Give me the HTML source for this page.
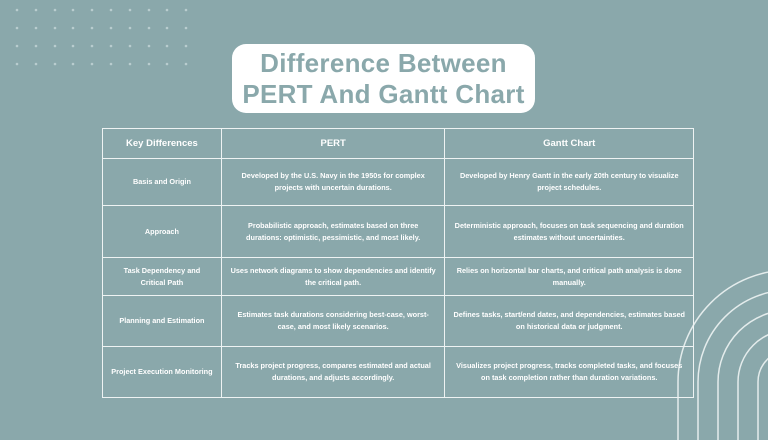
<!DOCTYPE html>
<html><head><style>
body{margin:0;width:768px;height:440px;background:#8aa8ab;position:relative;overflow:hidden;font-family:"Liberation Sans",sans-serif;}
.title{position:absolute;left:232px;top:44px;width:303px;height:69px;background:#fff;border-radius:14px;color:#8aa8ab;font-weight:bold;font-size:26px;line-height:31px;text-align:center;padding-top:4px;box-sizing:border-box;letter-spacing:0.3px}
table{position:absolute;left:102px;top:128px;width:592px;border-collapse:collapse;color:#fff;font-size:7.3px;font-weight:bold;}
td{border:1.2px solid #eef3f3;text-align:center;vertical-align:middle;padding:0 8px;line-height:12px}
tr.h td{font-size:9.5px;height:29px}
</style></head><body>
<svg width="768" height="440" style="position:absolute;left:0;top:0">
<g fill="none" stroke="#e4ecec" stroke-width="1.5">
<path d="M678 440 V382 A112 112 0 0 1 902 382"/>
<path d="M698 440 V382 A92 92 0 0 1 882 382"/>
<path d="M718 440 V382 A72 72 0 0 1 862 382"/>
<path d="M738 440 V382 A52 52 0 0 1 842 382"/>
<path d="M758 440 V382 A32 32 0 0 1 822 382"/>
</g>
<g fill="#b9cdcf">
<circle cx="17" cy="10" r="1.3"/><circle cx="36" cy="10" r="1.3"/><circle cx="55" cy="10" r="1.3"/><circle cx="73" cy="10" r="1.3"/><circle cx="92" cy="10" r="1.3"/><circle cx="111" cy="10" r="1.3"/><circle cx="130" cy="10" r="1.3"/><circle cx="149" cy="10" r="1.3"/><circle cx="167" cy="10" r="1.3"/><circle cx="186" cy="10" r="1.3"/>
<circle cx="17" cy="28" r="1.3"/><circle cx="36" cy="28" r="1.3"/><circle cx="55" cy="28" r="1.3"/><circle cx="73" cy="28" r="1.3"/><circle cx="92" cy="28" r="1.3"/><circle cx="111" cy="28" r="1.3"/><circle cx="130" cy="28" r="1.3"/><circle cx="149" cy="28" r="1.3"/><circle cx="167" cy="28" r="1.3"/><circle cx="186" cy="28" r="1.3"/>
<circle cx="17" cy="46" r="1.3"/><circle cx="36" cy="46" r="1.3"/><circle cx="55" cy="46" r="1.3"/><circle cx="73" cy="46" r="1.3"/><circle cx="92" cy="46" r="1.3"/><circle cx="111" cy="46" r="1.3"/><circle cx="130" cy="46" r="1.3"/><circle cx="149" cy="46" r="1.3"/><circle cx="167" cy="46" r="1.3"/><circle cx="186" cy="46" r="1.3"/>
<circle cx="17" cy="64" r="1.3"/><circle cx="36" cy="64" r="1.3"/><circle cx="55" cy="64" r="1.3"/><circle cx="73" cy="64" r="1.3"/><circle cx="92" cy="64" r="1.3"/><circle cx="111" cy="64" r="1.3"/><circle cx="130" cy="64" r="1.3"/><circle cx="149" cy="64" r="1.3"/><circle cx="167" cy="64" r="1.3"/><circle cx="186" cy="64" r="1.3"/>
</g>
</svg>
<div class="title">Difference Between<br>PERT And Gantt Chart</div>
<table>
<colgroup><col style="width:119px"><col style="width:224px"><col style="width:249px"></colgroup>
<tr class="h"><td>Key Differences</td><td>PERT</td><td>Gantt Chart</td></tr>
<tr style="height:47px"><td>Basis and Origin</td><td>Developed by the U.S. Navy in the 1950s for complex projects with uncertain durations.</td><td>Developed by Henry Gantt in the early 20th century to visualize project schedules.</td></tr>
<tr style="height:52px"><td>Approach</td><td>Probabilistic approach, estimates based on three durations: optimistic, pessimistic, and most likely.</td><td>Deterministic approach, focuses on task sequencing and duration estimates without uncertainties.</td></tr>
<tr style="height:38px"><td>Task Dependency and Critical Path</td><td>Uses network diagrams to show dependencies and identify the critical path.</td><td>Relies on horizontal bar charts, and critical path analysis is done manually.</td></tr>
<tr style="height:51px"><td>Planning and Estimation</td><td>Estimates task durations considering best-case, worst-case, and most likely scenarios.</td><td>Defines tasks, start/end dates, and dependencies, estimates based on historical data or judgment.</td></tr>
<tr style="height:51px"><td>Project Execution Monitoring</td><td>Tracks project progress, compares estimated and actual durations, and adjusts accordingly.</td><td>Visualizes project progress, tracks completed tasks, and focuses on task completion rather than duration variations.</td></tr>
</table>
</body></html>
